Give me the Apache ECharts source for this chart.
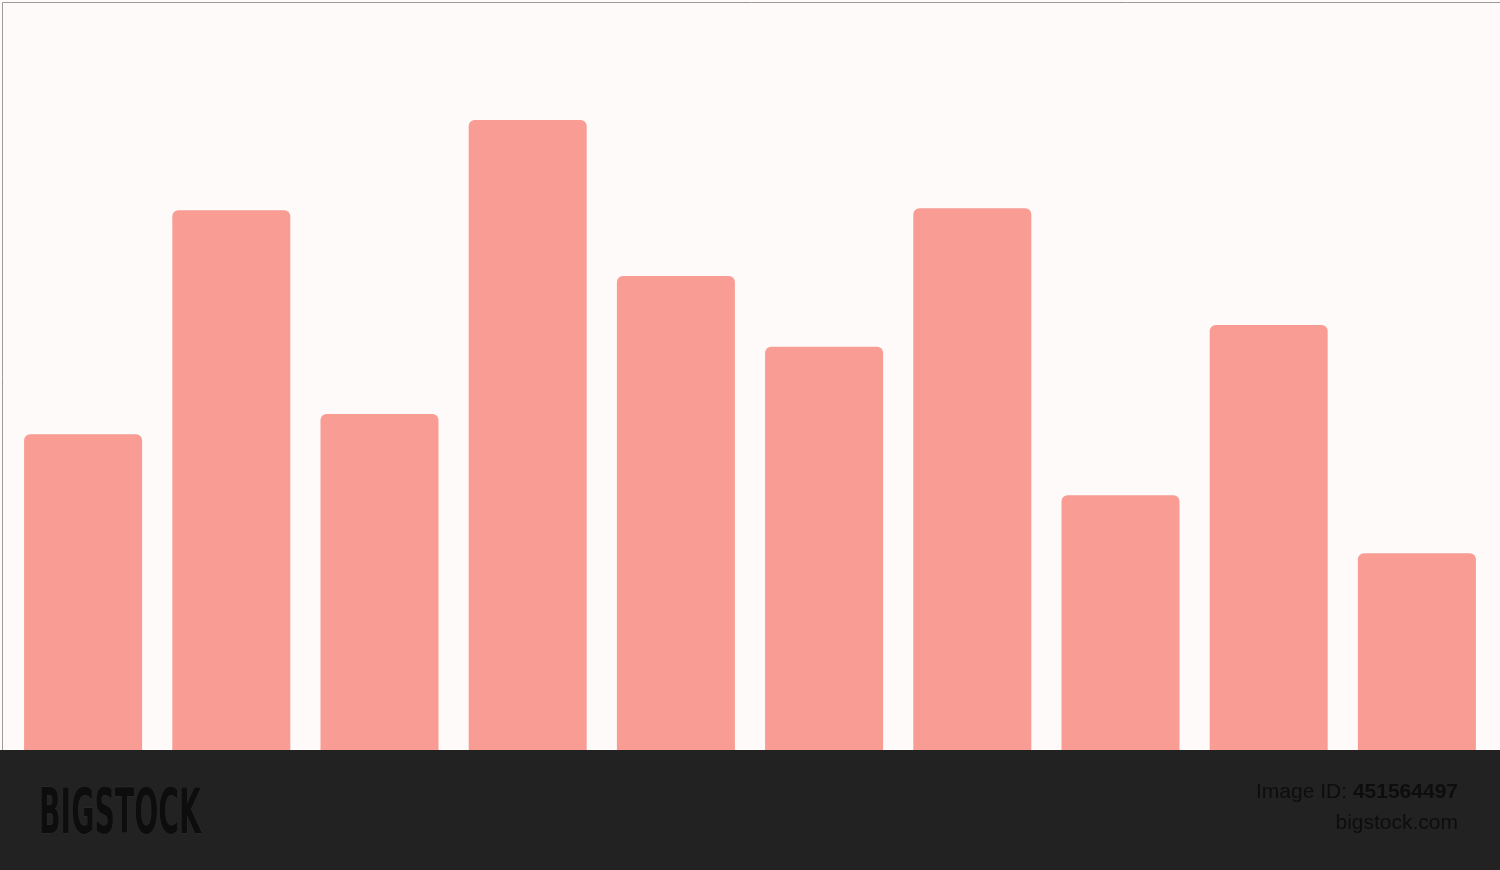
<!DOCTYPE html>
<html>
<head>
<meta charset="utf-8">
<script src="https://cdn.jsdelivr.net/npm/echarts@6/dist/echarts.min.js"></script>
<style>
html,body{margin:0;padding:0;background:#fefafa;}
#c{width:1500px;height:870px;}
</style>
</head>
<body>
<div id="c"></div>
<script>
const categories = ['1','2','3','4','5','6','7','8','9','10'];
const values = [45.1, 77.1, 48.0, 90.0, 67.7, 57.6, 77.4, 36.4, 60.7, 28.1];
const footerBrand = 'BIGSTOCK';
const footerId = '451564497';
const footerSite = 'bigstock.com';

const chart = echarts.init(document.getElementById('c'), null, {renderer: 'canvas'});
chart.setOption({
  backgroundColor: '#fefafa',
  animation: false,
  grid: {left: 9, right: 9, top: 50, bottom: 120},
  xAxis: {
    type: 'category', data: categories,
    axisLine: {show: false}, axisTick: {show: false}, axisLabel: {show: false}, splitLine: {show: false}
  },
  yAxis: {
    type: 'value', min: 0, max: 100,
    axisLine: {show: false}, axisTick: {show: false}, axisLabel: {show: false}, splitLine: {show: false}
  },
  series: [{
    type: 'bar',
    data: values,
    barWidth: 118,
    itemStyle: {color: '#f89c94', borderRadius: [6, 6, 0, 0]}
  }],
  graphic: [
    {type: 'rect', left: 0, top: 0, shape: {x: 0.5, y: 0.5, width: 1499, height: 750}, style: {fill: 'none', stroke: '#9a9a9a', lineWidth: 1}, silent: true, z: 10},
    {type: 'rect', left: 0, top: 750, shape: {width: 1500, height: 120}, style: {fill: '#222222'}, silent: true, z: 10},
    {type: 'text', x: 39, y: 785, scaleX: 0.5, style: {text: footerBrand, font: 'bold 63px "DejaVu Sans Condensed", "Liberation Sans", sans-serif', fill: '#0d0d0d', stroke: '#3a3a3a', lineWidth: 0.6}, z: 11},
    {type: 'text', x: 1458, y: 792, style: {
      text: '{a|Image ID: }{b|' + footerId + '}', align: 'right', verticalAlign: 'middle',
      rich: {
        a: {font: '21px "Liberation Sans", Arial, sans-serif', fill: '#0d0d0d'},
        b: {font: 'bold 21px "Liberation Sans", Arial, sans-serif', fill: '#0d0d0d'}
      }}, z: 11},
    {type: 'text', x: 1458, y: 823, style: {text: footerSite, align: 'right', verticalAlign: 'middle', font: '21px "Liberation Sans", Arial, sans-serif', fill: '#0d0d0d'}, z: 11}
  ]
});
</script>
</body>
</html>
